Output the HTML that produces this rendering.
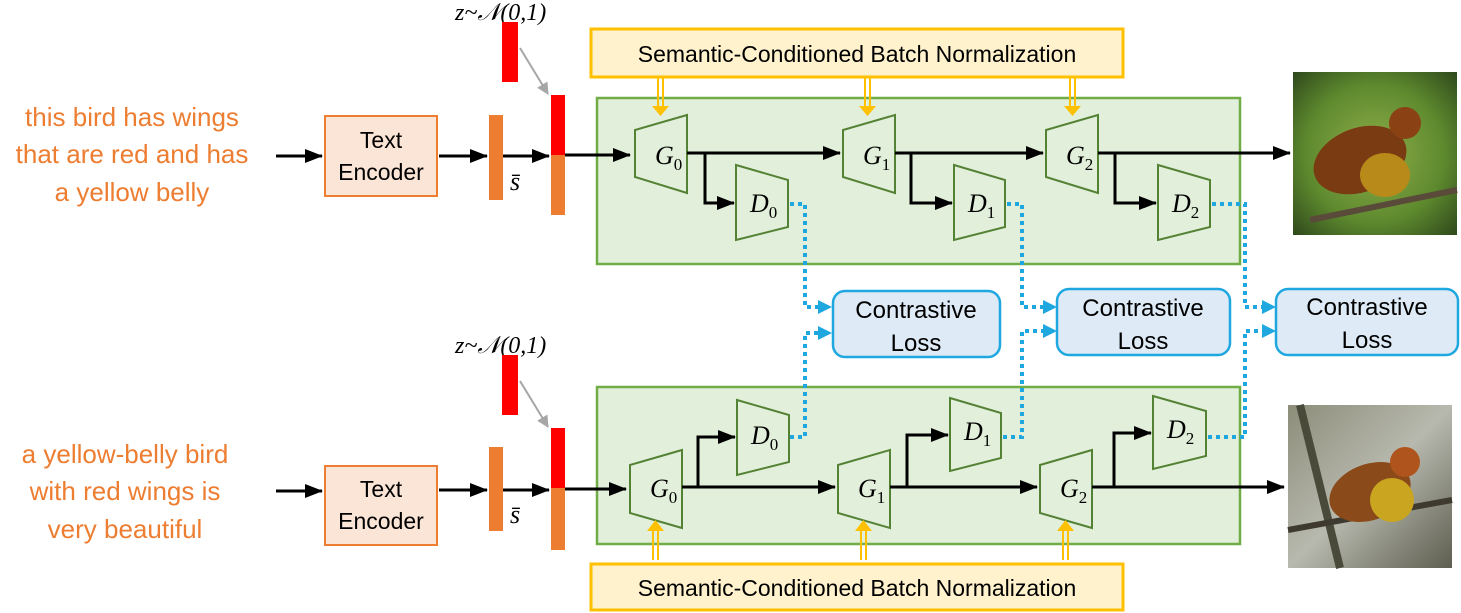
<!DOCTYPE html>
<html><head><meta charset="utf-8"><style>
html,body{margin:0;padding:0;background:#fff;}
svg{display:block;}
text{font-family:"Liberation Sans",sans-serif;}
.or{fill:#ed7d31;font-size:26px;text-anchor:middle;}
.lb{font-size:23px;text-anchor:middle;fill:#000;}
.cl{font-size:24px;text-anchor:middle;fill:#000;}
.m{font-family:"Liberation Serif",serif;font-style:italic;font-size:26px;}
.tr{fill:#e2efda;stroke:#548235;stroke-width:2;}
.bl{stroke:#1fa8e0;stroke-width:4;stroke-dasharray:4 4;fill:none;}
.k{stroke:#000;stroke-width:3;fill:none;}
</style></head><body>
<svg width="1461" height="613" viewBox="0 0 1461 613" xmlns="http://www.w3.org/2000/svg">
<defs>
<marker id="ak" markerWidth="18" markerHeight="14" refX="17" refY="7" orient="auto" markerUnits="userSpaceOnUse"><path d="M0,0 L18,7 L0,14z" fill="#000"/></marker>
<marker id="ag" markerWidth="12" markerHeight="12" refX="11" refY="6" orient="auto" markerUnits="userSpaceOnUse"><path d="M0,0 L12,6 L0,12z" fill="#a6a6a6"/></marker>
<radialGradient id="b1" cx="0.5" cy="0.5" r="0.7"><stop offset="0" stop-color="#8fae4a"/><stop offset="0.6" stop-color="#5e8a2e"/><stop offset="1" stop-color="#2f4a1c"/></radialGradient>
<linearGradient id="b2" x1="0" y1="0" x2="1" y2="1"><stop offset="0" stop-color="#8d8d7a"/><stop offset="0.5" stop-color="#b7b9ae"/><stop offset="1" stop-color="#5e5e50"/></linearGradient>
</defs>

<!-- TOP ROW -->
<text class="or" x="132" y="126">this bird has wings</text>
<text class="or" x="132" y="163">that are red and has</text>
<text class="or" x="132" y="201">a yellow belly</text>
<line class="k" x1="276" y1="156" x2="322" y2="156" marker-end="url(#ak)"/>
<rect x="325" y="116" width="112" height="80" fill="#fbe5d6" stroke="#ed7d31" stroke-width="2"/>
<text class="lb" x="381" y="148">Text</text><text class="lb" x="381" y="180">Encoder</text>
<line class="k" x1="439" y1="156" x2="487" y2="156" marker-end="url(#ak)"/>
<rect x="489" y="115" width="14" height="85" fill="#ed7d31"/>
<text class="m" x="510" y="190">s̄</text>
<line class="k" x1="503" y1="156" x2="549" y2="156" marker-end="url(#ak)"/>
<rect x="551" y="95" width="14" height="60" fill="#ff0000"/>
<rect x="551" y="155" width="14" height="60" fill="#ed7d31"/>
<text class="m" x="455" y="20" style="font-size:24px">z~𝒩(0,1)</text>
<rect x="502" y="22" width="16" height="60" fill="#ff0000"/>
<line x1="520" y1="48" x2="548" y2="94" stroke="#a6a6a6" stroke-width="2" marker-end="url(#ag)"/>

<rect x="597" y="98" width="643" height="166" fill="#e2efda" stroke="#70ad47" stroke-width="2.5"/>
<rect x="591" y="29" width="532" height="48" fill="#fff2cc" stroke="#ffc000" stroke-width="3"/>
<text class="lb" x="857" y="62">Semantic-Conditioned Batch Normalization</text>
<line class="k" x1="565" y1="155" x2="630" y2="155" marker-end="url(#ak)"/>

<polygon class="tr" points="635,130 687,115 687,193 635,177"/>
<polygon class="tr" points="843,130 895,115 895,193 843,177"/>
<polygon class="tr" points="1046,130 1098,115 1098,193 1046,177"/>
<polygon class="tr" points="736,165 788,180 788,227 736,240"/>
<polygon class="tr" points="954,165 1005,180 1005,227 954,240"/>
<polygon class="tr" points="1158,165 1210,180 1210,227 1158,240"/>
<text class="m" x="655" y="164">G<tspan font-size="17" dy="6" font-style="normal">0</tspan></text>
<text class="m" x="863" y="164">G<tspan font-size="17" dy="6" font-style="normal">1</tspan></text>
<text class="m" x="1066" y="164">G<tspan font-size="17" dy="6" font-style="normal">2</tspan></text>
<text class="m" x="750" y="212">D<tspan font-size="17" dy="6" font-style="normal">0</tspan></text>
<text class="m" x="968" y="212">D<tspan font-size="17" dy="6" font-style="normal">1</tspan></text>
<text class="m" x="1172" y="212">D<tspan font-size="17" dy="6" font-style="normal">2</tspan></text>
<line class="k" x1="687" y1="153" x2="840" y2="153" marker-end="url(#ak)"/>
<line class="k" x1="895" y1="153" x2="1043" y2="153" marker-end="url(#ak)"/>
<line class="k" x1="1098" y1="153" x2="1290" y2="153" marker-end="url(#ak)"/>
<polyline class="k" points="705,153 705,203 734,203" marker-end="url(#ak)"/>
<polyline class="k" points="911,153 911,203 952,203" marker-end="url(#ak)"/>
<polyline class="k" points="1115,153 1115,203 1156,203" marker-end="url(#ak)"/>
<g stroke="#ffc000" stroke-width="2">
<line x1="658" y1="78" x2="658" y2="108"/><line x1="663" y1="78" x2="663" y2="108"/>
<line x1="865" y1="78" x2="865" y2="108"/><line x1="870" y1="78" x2="870" y2="108"/>
<line x1="1070" y1="78" x2="1070" y2="108"/><line x1="1075" y1="78" x2="1075" y2="108"/>
</g>
<path d="M652,106 L669,106 L660.5,116z" fill="#ffc000"/>
<path d="M859,106 L876,106 L867.5,116z" fill="#ffc000"/>
<path d="M1064,106 L1081,106 L1072.5,116z" fill="#ffc000"/>

<rect x="1293" y="72" width="164" height="163" fill="url(#b1)"/>
<ellipse cx="1360" cy="160" rx="48" ry="32" fill="#7a3a12" transform="rotate(-20 1360 160)"/>
<ellipse cx="1385" cy="175" rx="25" ry="22" fill="#b88a1a"/>
<circle cx="1405" cy="123" r="16" fill="#8a4214"/>
<path d="M1310,220 L1457,190" stroke="#5a4a3a" stroke-width="6"/>

<!-- BOTTOM ROW -->
<text class="or" x="125" y="463">a yellow-belly bird</text>
<text class="or" x="125" y="500">with red wings is</text>
<text class="or" x="125" y="538">very beautiful</text>
<line class="k" x1="276" y1="491" x2="322" y2="491" marker-end="url(#ak)"/>
<rect x="325" y="466" width="112" height="79" fill="#fbe5d6" stroke="#ed7d31" stroke-width="2"/>
<text class="lb" x="381" y="497">Text</text><text class="lb" x="381" y="529">Encoder</text>
<line class="k" x1="439" y1="490" x2="487" y2="490" marker-end="url(#ak)"/>
<rect x="489" y="447" width="14" height="84" fill="#ed7d31"/>
<text class="m" x="510" y="523">s̄</text>
<line class="k" x1="503" y1="490" x2="549" y2="490" marker-end="url(#ak)"/>
<rect x="551" y="428" width="14" height="60" fill="#ff0000"/>
<rect x="551" y="488" width="14" height="62" fill="#ed7d31"/>
<text class="m" x="455" y="353" style="font-size:24px">z~𝒩(0,1)</text>
<rect x="502" y="355" width="16" height="60" fill="#ff0000"/>
<line x1="520" y1="381" x2="548" y2="427" stroke="#a6a6a6" stroke-width="2" marker-end="url(#ag)"/>

<rect x="597" y="387" width="643" height="157" fill="#e2efda" stroke="#70ad47" stroke-width="2.5"/>
<rect x="591" y="564" width="532" height="46" fill="#fff2cc" stroke="#ffc000" stroke-width="3"/>
<text class="lb" x="857" y="596">Semantic-Conditioned Batch Normalization</text>
<line class="k" x1="565" y1="489" x2="626" y2="489" marker-end="url(#ak)"/>

<polygon class="tr" points="630,465 682,450 682,528 630,513"/>
<polygon class="tr" points="838,465 890,450 890,528 838,513"/>
<polygon class="tr" points="1040,465 1092,450 1092,528 1040,513"/>
<polygon class="tr" points="737,400 789,415 789,462 737,475"/>
<polygon class="tr" points="950,398 1001,413 1001,458 950,471"/>
<polygon class="tr" points="1153,396 1206,411 1206,456 1153,469"/>
<text class="m" x="650" y="497">G<tspan font-size="17" dy="6" font-style="normal">0</tspan></text>
<text class="m" x="858" y="497">G<tspan font-size="17" dy="6" font-style="normal">1</tspan></text>
<text class="m" x="1060" y="497">G<tspan font-size="17" dy="6" font-style="normal">2</tspan></text>
<text class="m" x="751" y="444">D<tspan font-size="17" dy="6" font-style="normal">0</tspan></text>
<text class="m" x="964" y="440">D<tspan font-size="17" dy="6" font-style="normal">1</tspan></text>
<text class="m" x="1167" y="438">D<tspan font-size="17" dy="6" font-style="normal">2</tspan></text>
<line class="k" x1="682" y1="487" x2="835" y2="487" marker-end="url(#ak)"/>
<line class="k" x1="890" y1="487" x2="1037" y2="487" marker-end="url(#ak)"/>
<line class="k" x1="1092" y1="487" x2="1284" y2="487" marker-end="url(#ak)"/>
<polyline class="k" points="698,487 698,437 735,437" marker-end="url(#ak)"/>
<polyline class="k" points="907,487 907,435 948,435" marker-end="url(#ak)"/>
<polyline class="k" points="1114,487 1114,433 1151,433" marker-end="url(#ak)"/>
<g stroke="#ffc000" stroke-width="2">
<line x1="653" y1="560" x2="653" y2="528"/><line x1="658" y1="560" x2="658" y2="528"/>
<line x1="861" y1="560" x2="861" y2="528"/><line x1="866" y1="560" x2="866" y2="528"/>
<line x1="1063" y1="560" x2="1063" y2="528"/><line x1="1068" y1="560" x2="1068" y2="528"/>
</g>
<path d="M647,531 L664,531 L655.5,520z" fill="#ffc000"/>
<path d="M855,531 L872,531 L863.5,520z" fill="#ffc000"/>
<path d="M1057,531 L1074,531 L1065.5,520z" fill="#ffc000"/>

<rect x="1288" y="405" width="164" height="163" fill="url(#b2)"/>
<path d="M1300,405 L1340,568" stroke="#4a4a3a" stroke-width="8"/>
<path d="M1288,530 L1452,500" stroke="#3e3a30" stroke-width="6"/>
<ellipse cx="1370" cy="492" rx="42" ry="28" fill="#8a4a1a" transform="rotate(-20 1370 492)"/>
<ellipse cx="1392" cy="500" rx="22" ry="22" fill="#c9a520"/>
<circle cx="1405" cy="462" r="15" fill="#b0541e"/>

<!-- contrastive loss -->
<rect x="833" y="291" width="167" height="66" rx="12" fill="#deebf7" stroke="#1fa8e0" stroke-width="2.5"/>
<text class="cl" x="916" y="318">Contrastive</text><text class="cl" x="916" y="351">Loss</text>
<rect x="1057" y="289" width="173" height="66" rx="12" fill="#deebf7" stroke="#1fa8e0" stroke-width="2.5"/>
<text class="cl" x="1143" y="316">Contrastive</text><text class="cl" x="1143" y="349">Loss</text>
<rect x="1276" y="289" width="182" height="66" rx="12" fill="#deebf7" stroke="#1fa8e0" stroke-width="2.5"/>
<text class="cl" x="1367" y="315">Contrastive</text><text class="cl" x="1367" y="348">Loss</text>

<polyline class="bl" points="790,204 805,204 805,307 818,307"/>
<polyline class="bl" points="790,437 805,437 805,333 818,333"/>
<polyline class="bl" points="1007,204 1022,204 1022,307 1043,307"/>
<polyline class="bl" points="1003,437 1022,437 1022,331 1043,331"/>
<polyline class="bl" points="1212,204 1245,204 1245,307 1262,307"/>
<polyline class="bl" points="1208,437 1245,437 1245,331 1262,331"/>
<g fill="#1fa8e0">
<path d="M818,300 L832,307 L818,314z"/><path d="M818,326 L832,333 L818,340z"/>
<path d="M1043,300 L1057,307 L1043,314z"/><path d="M1043,324 L1057,331 L1043,338z"/>
<path d="M1262,300 L1276,307 L1262,314z"/><path d="M1262,324 L1276,331 L1262,338z"/>
</g>
</svg>
</body></html>
